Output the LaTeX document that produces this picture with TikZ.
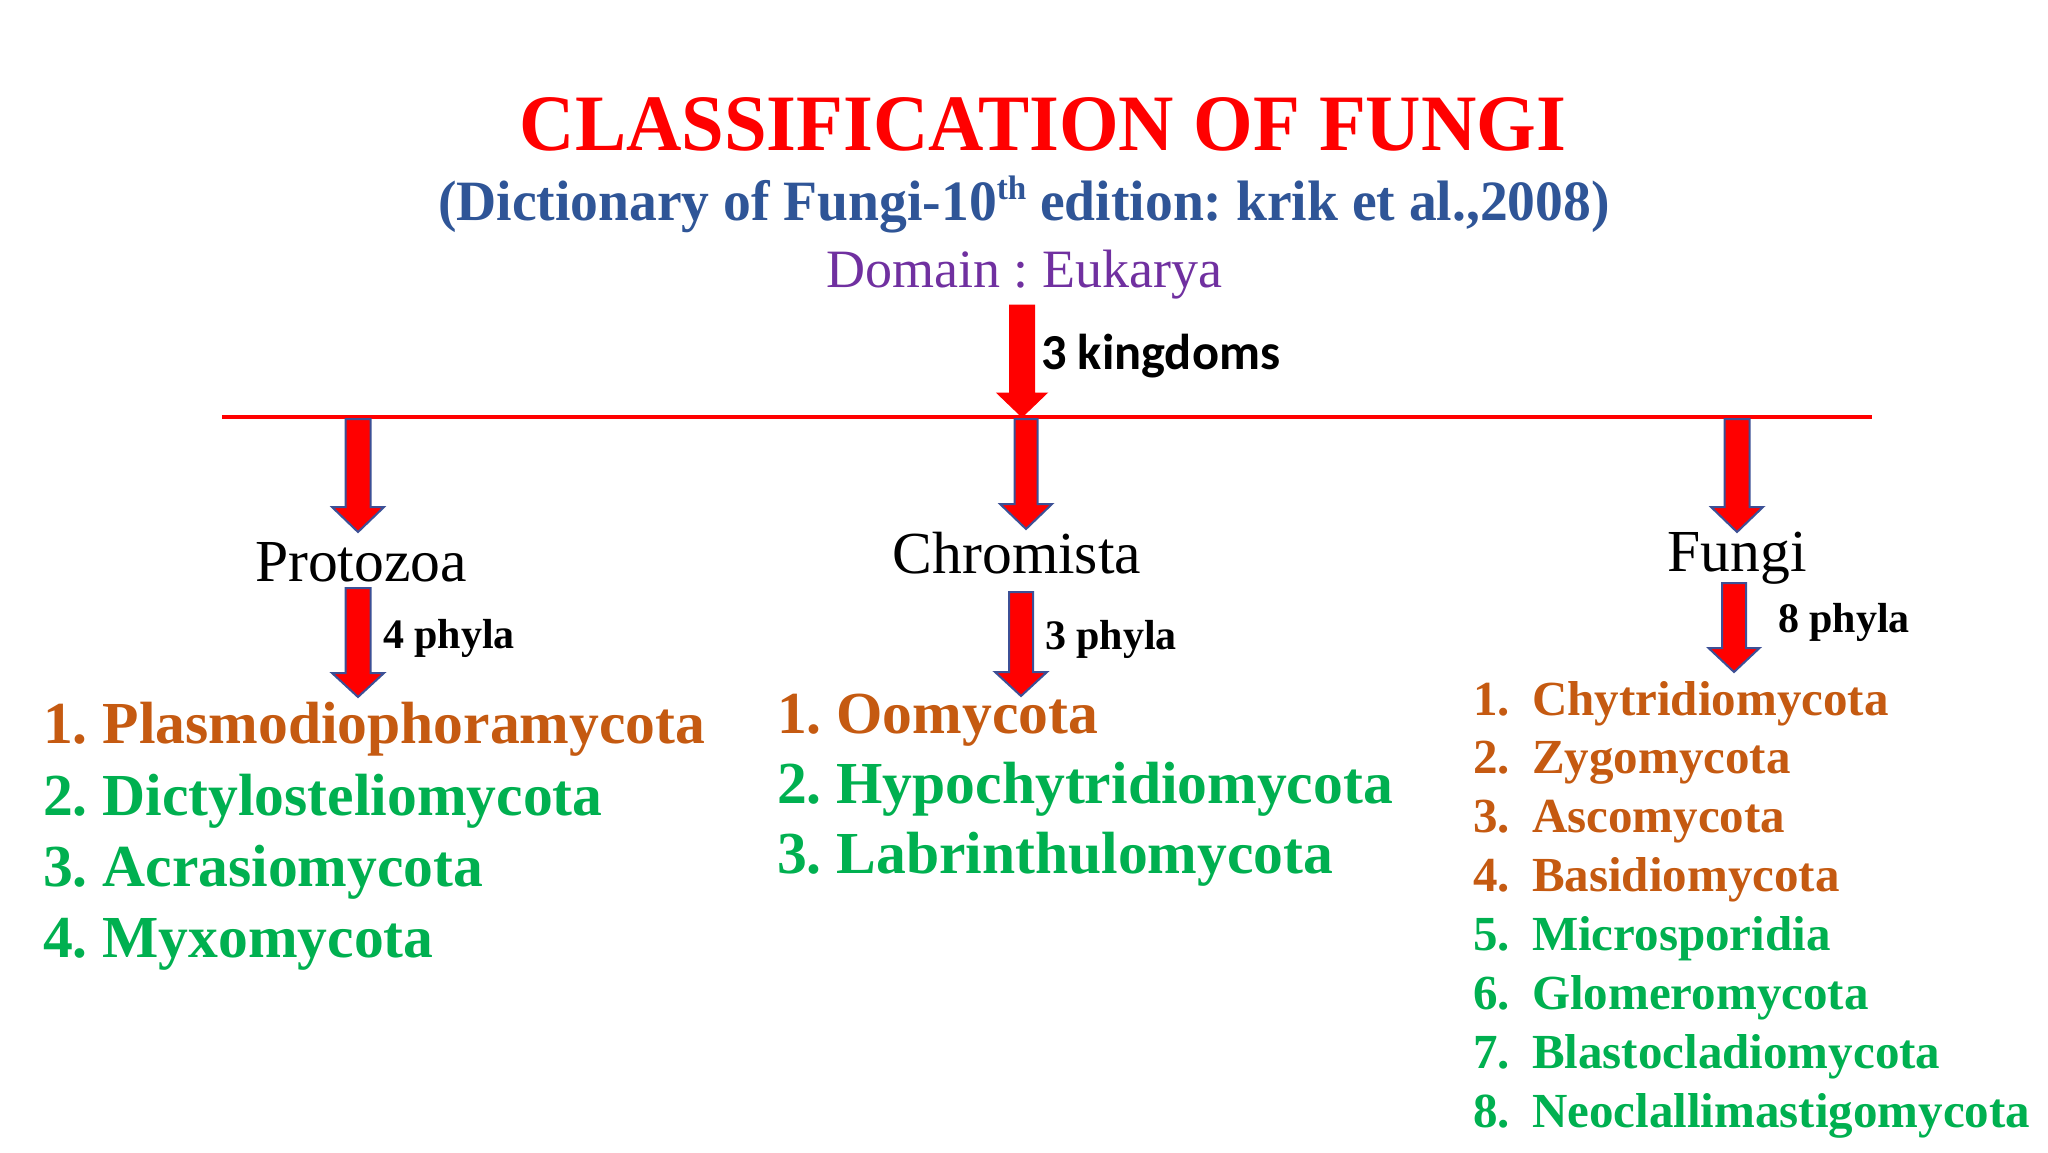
\documentclass[tikz,border=0pt]{standalone}
\usepackage{fontspec}
\setmainfont{Liberation Serif}
\newfontfamily\calib{Carlito}
\usetikzlibrary{calc}
\frenchspacing
\definecolor{titred}{RGB}{255,0,0}
\definecolor{subblue}{RGB}{47,85,151}
\definecolor{dompurple}{RGB}{112,48,160}
\definecolor{itorange}{RGB}{197,90,17}
\definecolor{itgreen}{RGB}{0,176,80}
\definecolor{arrline}{RGB}{60,80,150}
\newcommand{\blockarr}[6][]{%
  \draw[#1] ($(#2)+(-#4,0)$) -- ($(#2)+(#4,0)$) -- ($(#3)+(#4,-#6)$) -- ($(#3)+(#5,-#6)$)
   -- (#3) -- ($(#3)+(-#5,-#6)$) -- ($(#3)+(-#4,-#6)$) -- cycle;}
\tikzset{
  txt/.style={inner sep=0pt, outer sep=0pt, anchor=base},
  kingdom/.style={txt, font=\fontsize{29.8}{34}\selectfont},
  phyla/.style={txt, anchor=base west, font=\fontsize{21}{25}\selectfont\bfseries},
  bigitem/.style={txt, anchor=base west, font=\fontsize{29.8}{34}\selectfont\bfseries},
  smallitem/.style={txt, anchor=base west, font=\fontsize{24.5}{28}\selectfont\bfseries},
  barrow/.style={fill=red, draw=arrline, line width=1pt, line join=miter},
  toparrow/.style={fill=red, draw=red, line width=0.5pt},
}
\begin{document}
\begin{tikzpicture}[x=0.5pt,y=-0.5pt]
\useasboundingbox (0,0) rectangle (2048,1152);
\fill[white] (0,0) rectangle (2048,1152);

% titles
\node[txt, text=titred, font=\fontsize{40}{48}\selectfont\bfseries] (title) at (1043,150)
  {\scalebox{0.958}[1]{CLASSIFICATION OF FUNGI}};
\node[txt, text=subblue, font=\fontsize{28.5}{34}\selectfont\bfseries] (subtitle) at (1024,220)
  {\scalebox{0.975}[1]{(Dictionary of Fungi-10\raisebox{0.36em}{\fontsize{17}{20}\selectfont th} edition: krik et al.,2008)}};
\node[txt, text=dompurple, font=\fontsize{27}{32}\selectfont] (domain) at (1024,287) {Domain : Eukarya};

% kingdoms label and line
\coordinate (t0) at (1022,305);
\coordinate (t1) at (1022,417);
\blockarr[toparrow]{t0}{t1}{12.5}{25}{24}
\node[txt, anchor=base west, font=\fontsize{25.2}{30}\selectfont\calib\bfseries] (kd) at (1041,369) {3 kingdoms};
\coordinate (hl) at (222,417);
\coordinate (hr) at (1872,417);
\draw[red, line width=1.6pt] (hl) -- (hr);

% kingdoms
\node[kingdom] (protozoa) at (361,581) {Protozoa};
\node[kingdom] (chromista) at (1017,573) {Chromista};
\node[kingdom] (fungi) at (1737,571) {Fungi};

\coordinate (p0) at (358,419); \coordinate (p1) at (358,532);
\coordinate (p2) at (358,588); \coordinate (p3) at (358,697);
\coordinate (c0) at (1026,419); \coordinate (c1) at (1026,529);
\coordinate (c2) at (1021,592); \coordinate (c3) at (1021,696);
\coordinate (f0) at (1737,419); \coordinate (f1) at (1737,532);
\coordinate (f2) at (1734,583); \coordinate (f3) at (1734,672);

\blockarr[barrow]{p0}{p1}{12.5}{26}{25}
\blockarr[barrow]{p2}{p3}{12.5}{26}{24}
\blockarr[barrow]{c0}{c1}{11.5}{26}{25}
\blockarr[barrow]{c2}{c3}{12}{26}{24}
\blockarr[barrow]{f0}{f1}{12.5}{26}{25}
\blockarr[barrow]{f2}{f3}{12}{25.5}{24}

\node[phyla] (ph4) at (383,648) {4 phyla};
\node[phyla] (ph3) at (1045,649) {3 phyla};
\node[phyla] (ph8) at (1778,632) {8 phyla};

% Protozoa list
\node[bigitem, text=itorange] (pa) at (43,743) {1. Plasmodiophoramycota};
\node[bigitem, text=itgreen] (pb) at (43,815) {2. Dictylosteliomycota};
\node[bigitem, text=itgreen] (pc) at (43,886) {3. Acrasiomycota};
\node[bigitem, text=itgreen] (pd) at (43,957) {4. Myxomycota};

% Chromista list
\node[bigitem, text=itorange] (ca) at (777,733) {1. Oomycota};
\node[bigitem, text=itgreen] (cb) at (777,803) {2. Hypochytridiomycota};
\node[bigitem, text=itgreen] (cc) at (777,873) {3. Labrinthulomycota};

% Fungi list
\foreach \n/\name/\col [count=\i from 0] in {1/Chytridiomycota/itorange, 2/Zygomycota/itorange, 3/Ascomycota/itorange, 4/Basidiomycota/itorange, 5/Microsporidia/itgreen, 6/Glomeromycota/itgreen, 7/Blastocladiomycota/itgreen, 8/Neoclallimastigomycota/itgreen}{
  \node[smallitem, text=\col] (fn\n) at (1473,715+58.9*\i) {\n.};
  \node[smallitem, text=\col] (fi\n) at (1532,715+58.9*\i) {\name};
}
\end{tikzpicture}
\end{document}
